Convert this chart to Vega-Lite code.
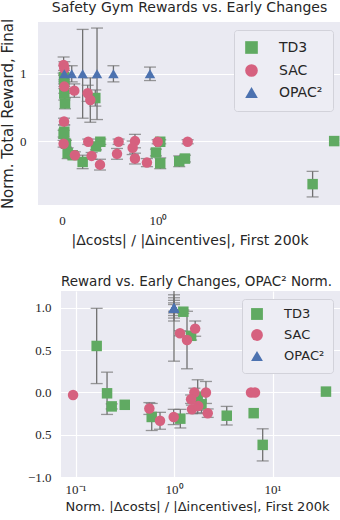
{
  "$schema": "https://vega.github.io/schema/vega-lite/v6.json",
  "padding": {"top": 1, "left": 0, "right": 0, "bottom": 0},
  "background": "white",
  "config": {
    "view": {"fill": "#EAEAF2", "stroke": null},
    "font": "DejaVu Sans",
    "axis": {"domain": false, "ticks": false, "gridColor": "white", "gridWidth": 1.2, "labelColor": "#262626", "titleColor": "#262626", "titleFontWeight": "normal", "labelFont": "Liberation Serif", "labelFontSize": 13, "titleFont": "DejaVu Sans"},
    "title": {"fontWeight": "normal", "color": "#262626", "font": "DejaVu Sans"},
    "legend": {"title": null, "orient": "top-right", "labelFont": "DejaVu Sans", "labelColor": "#262626", "strokeColor": "#D2D2DA", "fillColor": "#EDEDF4", "cornerRadius": 3, "symbolOpacity": 1}
  },
  "datasets": {
    "top": [
      {"alg": "TD3", "x": 0.015, "y": 0.95, "err": 0.1},
      {"alg": "TD3", "x": 0.017, "y": 0.88, "err": 0.1},
      {"alg": "TD3", "x": 0.017, "y": 0.71, "err": 0.1},
      {"alg": "TD3", "x": 0.022, "y": 0.56, "err": 0.08},
      {"alg": "TD3", "x": 0.017, "y": 0.14, "err": 0.1},
      {"alg": "TD3", "x": 0.012, "y": 0.11, "err": 0.05},
      {"alg": "TD3", "x": 0.029, "y": -0.04, "err": 0.05},
      {"alg": "TD3", "x": 0.042, "y": -0.18, "err": 0.08},
      {"alg": "TD3", "x": 0.08, "y": -0.21, "err": 0.05},
      {"alg": "TD3", "x": 0.161, "y": -0.31, "err": 0.1},
      {"alg": "TD3", "x": 0.272, "y": 0.64, "err": 0.12},
      {"alg": "TD3", "x": 0.278, "y": -0.08, "err": 0.05},
      {"alg": "TD3", "x": 0.319, "y": -0.01, "err": 0.04},
      {"alg": "TD3", "x": 1.033, "y": -0.01, "err": 0.03},
      {"alg": "TD3", "x": 0.971, "y": -0.17, "err": 0.05},
      {"alg": "TD3", "x": 1.033, "y": -0.33, "err": 0.08},
      {"alg": "TD3", "x": 1.332, "y": -0.3, "err": 0.08},
      {"alg": "TD3", "x": 1.43, "y": -0.26, "err": 0.05},
      {"alg": "TD3", "x": 6.14, "y": 0.0, "err": 0},
      {"alg": "TD3", "x": 5.11, "y": -0.64, "err": 0.19},
      {"alg": "SAC", "x": 0.012, "y": 1.13, "err": 0.12},
      {"alg": "SAC", "x": 0.017, "y": 1.08, "err": 0.1},
      {"alg": "SAC", "x": 0.017, "y": 0.81, "err": 0.1},
      {"alg": "SAC", "x": 0.093, "y": 0.75, "err": 0.1},
      {"alg": "SAC", "x": 0.204, "y": 0.71, "err": 0.12},
      {"alg": "SAC", "x": 0.227, "y": 0.61, "err": 0.33},
      {"alg": "SAC", "x": 0.015, "y": 0.29, "err": 0.05},
      {"alg": "SAC", "x": 0.012, "y": -0.04, "err": 0.05},
      {"alg": "SAC", "x": 0.098, "y": -0.21, "err": 0.05},
      {"alg": "SAC", "x": 0.209, "y": -0.01, "err": 0.04},
      {"alg": "SAC", "x": 0.239, "y": -0.22, "err": 0.05},
      {"alg": "SAC", "x": 0.316, "y": -0.35, "err": 0.08},
      {"alg": "SAC", "x": 0.505, "y": -0.01, "err": 0.04},
      {"alg": "SAC", "x": 0.488, "y": -0.19, "err": 0.08},
      {"alg": "SAC", "x": 0.694, "y": 0.0, "err": 0.1},
      {"alg": "SAC", "x": 0.666, "y": -0.1, "err": 0.1},
      {"alg": "SAC", "x": 0.694, "y": -0.26, "err": 0.08},
      {"alg": "SAC", "x": 0.847, "y": -0.32, "err": 0.06},
      {"alg": "SAC", "x": 0.996, "y": -0.01, "err": 0.03},
      {"alg": "SAC", "x": 1.478, "y": -0.01, "err": 0.03},
      {"alg": "OPAC²", "x": 0.017, "y": 1.0, "err": 0.12},
      {"alg": "OPAC²", "x": 0.073, "y": 1.0, "err": 0.12},
      {"alg": "OPAC²", "x": 0.161, "y": 1.0, "err": 0.66},
      {"alg": "OPAC²", "x": 0.288, "y": 1.0, "err": 0.68},
      {"alg": "OPAC²", "x": 0.45, "y": 1.0, "err": 0.12},
      {"alg": "OPAC²", "x": 0.888, "y": 1.0, "err": 0.1}
    ],
    "bottom": [
      {"alg": "TD3", "x": 0.164, "y": 0.55, "err": 0.445},
      {"alg": "TD3", "x": 0.209, "y": -0.01, "err": 0.25},
      {"alg": "TD3", "x": 0.233, "y": -0.165, "err": 0.03},
      {"alg": "TD3", "x": 0.316, "y": -0.146, "err": 0},
      {"alg": "TD3", "x": 0.594, "y": -0.29, "err": 0.16},
      {"alg": "TD3", "x": 1.159, "y": -0.31, "err": 0.11},
      {"alg": "TD3", "x": 1.243, "y": 0.955, "err": 0.02},
      {"alg": "TD3", "x": 1.49, "y": 0.67, "err": 0.05},
      {"alg": "TD3", "x": 1.74, "y": -0.05, "err": 0.2},
      {"alg": "TD3", "x": 1.9, "y": -0.14, "err": 0.1},
      {"alg": "TD3", "x": 3.43, "y": -0.275, "err": 0.11},
      {"alg": "TD3", "x": 6.44, "y": -0.245, "err": 0},
      {"alg": "TD3", "x": 7.95, "y": -0.62, "err": 0.19},
      {"alg": "TD3", "x": 34.9, "y": 0.01, "err": 0},
      {"alg": "SAC", "x": 0.0944, "y": -0.03, "err": 0},
      {"alg": "SAC", "x": 0.562, "y": -0.19, "err": 0.07},
      {"alg": "SAC", "x": 0.721, "y": -0.335, "err": 0.1},
      {"alg": "SAC", "x": 0.993, "y": -0.29, "err": 0.09},
      {"alg": "SAC", "x": 1.15, "y": 0.7, "err": 0.03},
      {"alg": "SAC", "x": 1.355, "y": 0.62, "err": 0.34},
      {"alg": "SAC", "x": 1.64, "y": 0.755, "err": 0.09},
      {"alg": "SAC", "x": 1.61, "y": 0.0, "err": 0.05},
      {"alg": "SAC", "x": 1.49, "y": -0.08, "err": 0.05},
      {"alg": "SAC", "x": 1.52, "y": -0.2, "err": 0.05},
      {"alg": "SAC", "x": 1.76, "y": -0.16, "err": 0.05},
      {"alg": "SAC", "x": 2.11, "y": 0.0, "err": 0.13},
      {"alg": "SAC", "x": 2.2, "y": -0.245, "err": 0.05},
      {"alg": "SAC", "x": 6.05, "y": 0.0, "err": 0},
      {"alg": "SAC", "x": 6.64, "y": 0.0, "err": 0},
      {"alg": "OPAC²", "x": 1.0, "y": 1.0, "err": 0.04},
      {"alg": "OPAC²", "x": 1.0, "y": 1.0, "err": 0.06},
      {"alg": "OPAC²", "x": 1.0, "y": 1.0, "err": 0.09},
      {"alg": "OPAC²", "x": 1.0, "y": 1.0, "err": 0.12},
      {"alg": "OPAC²", "x": 1.0, "y": 1.0, "err": 0.155},
      {"alg": "OPAC²", "x": 1.0, "y": 1.0, "err": 0.63}
    ]
  },
  "columns": 1,
  "spacing": 27,
  "resolve": {"scale": {"x": "independent", "y": "independent", "color": "independent", "shape": "independent"}, "legend": {"color": "independent", "shape": "independent"}},
  "concat": [
    {
      "width": 303,
      "height": 183,
      "title": {"text": "Safety Gym Rewards vs. Early Changes", "fontSize": 14, "offset": 3},
      "data": {"name": "top"},
      "layer": [
        {
          "transform": [{"filter": "datum.err > 0"}],
          "mark": {"type": "errorbar", "color": "#707070", "thickness": 1.3, "ticks": {"size": 12, "thickness": 1.3}, "clip": true},
          "encoding": {
            "x": {"field": "x", "type": "quantitative", "title": "|Δcosts| / |Δincentives|, First 200k", "scale": {"type": "symlog", "constant": 1, "domain": [-0.189, 6.5], "nice": false}},
            "y": {"field": "y", "type": "quantitative", "title": "Norm. Total Reward, Final", "scale": {"domain": [-0.95, 1.77], "nice": false, "zero": false}},
            "yError": {"field": "err"}
          }
        },
        {
          "mark": {"type": "point", "filled": true, "opacity": 1, "size": 110},
          "encoding": {
            "x": {"field": "x", "type": "quantitative", "title": "|Δcosts| / |Δincentives|, First 200k", "scale": {"type": "symlog", "constant": 1, "domain": [-0.189, 6.5], "nice": false},
              "axis": {"titleFontSize": 14, "titlePadding": 6, "values": [0, 1], "labelExpr": "datum.value == 0 ? '0' : '10⁰'", "grid": false, "labelPadding": 9}},
            "y": {"field": "y", "type": "quantitative", "title": "Norm. Total Reward, Final", "scale": {"domain": [-0.95, 1.77], "nice": false, "zero": false},
              "axis": {"titleFontSize": 15, "titlePadding": 4, "values": [0, 1], "labelExpr": "datum.value == 0 ? '0' : '1'", "labelPadding": 12}},
            "color": {"field": "alg", "type": "nominal", "scale": {"domain": ["TD3", "SAC", "OPAC²"], "range": ["#60AA62", "#D6617F", "#4C72B0"]},
              "legend": {"orient": "top-right", "symbolSize": 160, "labelFontSize": 14, "rowPadding": 4, "padding": 10, "offset": 8, "labelOffset": 20}},
            "shape": {"field": "alg", "type": "nominal", "scale": {"domain": ["TD3", "SAC", "OPAC²"], "range": ["square", "circle", "triangle-up"]}}
          }
        }
      ]
    },
    {
      "width": 303,
      "height": 186,
      "title": {"text": "Reward vs. Early Changes, OPAC² Norm.", "fontSize": 13.5, "offset": 3, "dx": 7},
      "resolve": {"scale": {"y": "independent"}},
      "layer": [
        {
          "data": {"name": "bottom"},
          "layer": [
            {
              "transform": [{"filter": "datum.err > 0"}],
              "mark": {"type": "errorbar", "color": "#707070", "thickness": 1.3, "ticks": {"size": 12, "thickness": 1.3}, "clip": true},
              "encoding": {
                "x": {"field": "x", "type": "quantitative", "title": "Norm. |Δcosts| / |Δincentives|, First 200k", "scale": {"type": "log", "domain": [0.0416, 49.6], "nice": false}},
                "y": {"field": "y", "type": "quantitative", "title": null, "scale": {"domain": [-1.0, 1.2], "nice": false, "zero": false},
                  "axis": {"orient": "left", "labels": false, "values": [-1, -0.5, 0, 0.5, 1], "grid": true}},
                "yError": {"field": "err"}
              }
            },
            {
              "mark": {"type": "point", "filled": true, "opacity": 1, "size": 110},
              "encoding": {
                "x": {"field": "x", "type": "quantitative", "title": "Norm. |Δcosts| / |Δincentives|, First 200k", "scale": {"type": "log", "domain": [0.0416, 49.6], "nice": false},
                  "axis": {"titleFontSize": 13, "titlePadding": 4, "titleX": 159, "values": [0.1, 1, 10], "labelExpr": "datum.value < 0.5 ? '10⁻¹' : datum.value < 5 ? '10⁰' : '10¹'", "labelPadding": 6}},
                "y": {"field": "y", "type": "quantitative", "title": null, "scale": {"domain": [-1.0, 1.2], "nice": false, "zero": false},
                  "axis": {"orient": "left", "labels": false, "values": [-1, -0.5, 0, 0.5, 1], "grid": true}},
                "color": {"field": "alg", "type": "nominal", "scale": {"domain": ["TD3", "SAC", "OPAC²"], "range": ["#60AA62", "#D6617F", "#4C72B0"]},
                  "legend": {"orient": "top-right", "symbolSize": 140, "labelFontSize": 13, "rowPadding": 3, "padding": 8, "offset": 8, "labelOffset": 20}},
                "shape": {"field": "alg", "type": "nominal", "scale": {"domain": ["TD3", "SAC", "OPAC²"], "range": ["square", "circle", "triangle-up"]}}
              }
            }
          ]
        },
        {
          "data": {"values": [{}]},
          "mark": {"type": "rect", "color": "white"},
          "encoding": {
            "x": {"datum": 0.0416, "type": "quantitative", "title": "Norm. |Δcosts| / |Δincentives|, First 200k"},
            "x2": {"datum": 0.0713},
            "y": {"datum": -1.0, "type": "quantitative", "title": "Norm. Total Reward, Final", "scale": {"domain": [-1.0, 1.2], "nice": false, "zero": false},
              "axis": {"orient": "left", "zindex": 1, "grid": false, "offset": -23, "titleFontSize": 15, "titlePadding": 11, "values": [-1, -0.5, 0, 0.5, 1], "labelExpr": "datum.value == -1 ? '−1.0' : datum.value == -0.5 ? '0.5' : format(datum.value, '.1f')", "labelPadding": 10}},
            "y2": {"datum": 1.2}
          }
        }
      ]
    }
  ]
}
